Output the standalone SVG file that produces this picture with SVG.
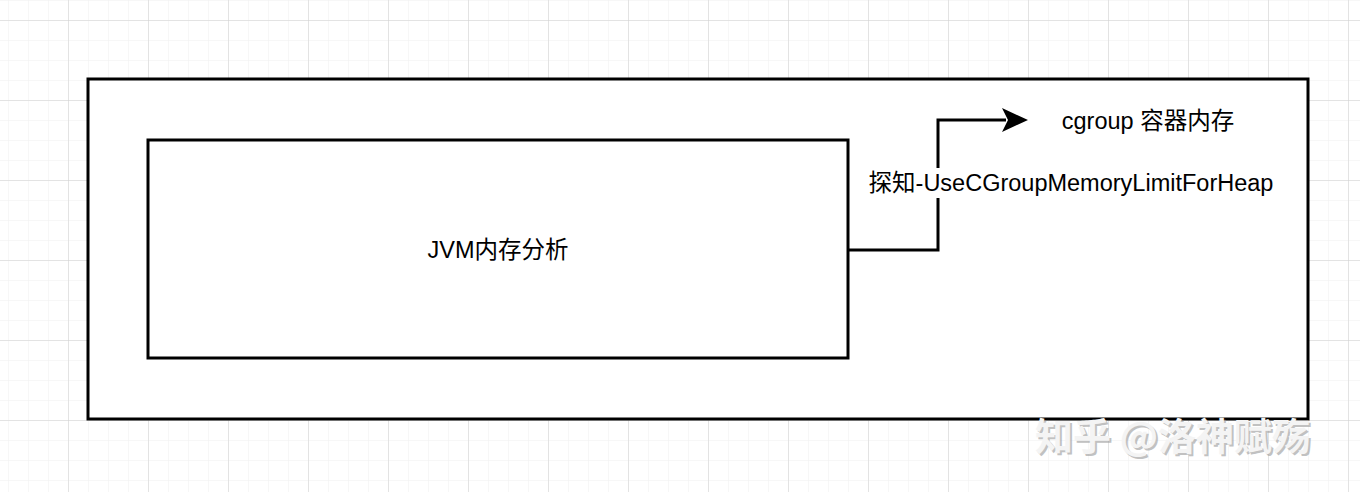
<svg xmlns="http://www.w3.org/2000/svg" width="1360" height="492" viewBox="0 0 1360 492">
<defs>
<pattern id="minor" x="8" y="0" width="20" height="20" patternUnits="userSpaceOnUse"><path d="M0 0V20M0 0H20" fill="none" stroke="#efefef" stroke-width="1"/></pattern>
<pattern id="major" x="68" y="20" width="80" height="80" patternUnits="userSpaceOnUse"><path d="M0 0V80M0 0H80" fill="none" stroke="#d0d0d0" stroke-width="1"/></pattern>
</defs>
<style>
.box{fill:#fff;stroke:#000;stroke-width:3}
.t{font-family:"Helvetica","Liberation Sans","Noto Sans CJK SC",sans-serif;font-size:23.5px;fill:#000}
</style>
<rect width="1360" height="492" fill="#fff"/>
<rect width="1360" height="492" fill="url(#minor)"/>
<rect width="1360" height="492" fill="url(#major)"/>
<g id="outer"><rect class="box" x="88" y="79" width="1220" height="340"/></g>
<g id="jvm"><rect class="box" x="148" y="140" width="700" height="218"/><text class="t" x="498" y="258" text-anchor="middle">JVM内存分析</text></g>
<g id="connectors">
<path d="M848 250H938V120H1006" fill="none" stroke="#000" stroke-width="3"/>
<path d="M1028 120L1002 108L1008 120L1002 132Z" fill="#000"/>
<rect x="864" y="168" width="414" height="30" fill="#fff"/>
<text class="t" x="1071" y="191" text-anchor="middle">探知-UseCGroupMemoryLimitForHeap</text>
</g>
<g id="cgroup"><text class="t" x="1148" y="129" text-anchor="middle">cgroup 容器内存</text></g>
<g id="watermark" font-family="'Noto Sans CJK SC',sans-serif" font-size="38" font-weight="bold">
<text x="1037" y="452" fill="#999" opacity="0.6">知乎 @洛神赋殇</text>
<text x="1035" y="450" fill="#f4f4f4">知乎 @洛神赋殇</text>
</g>
</svg>
